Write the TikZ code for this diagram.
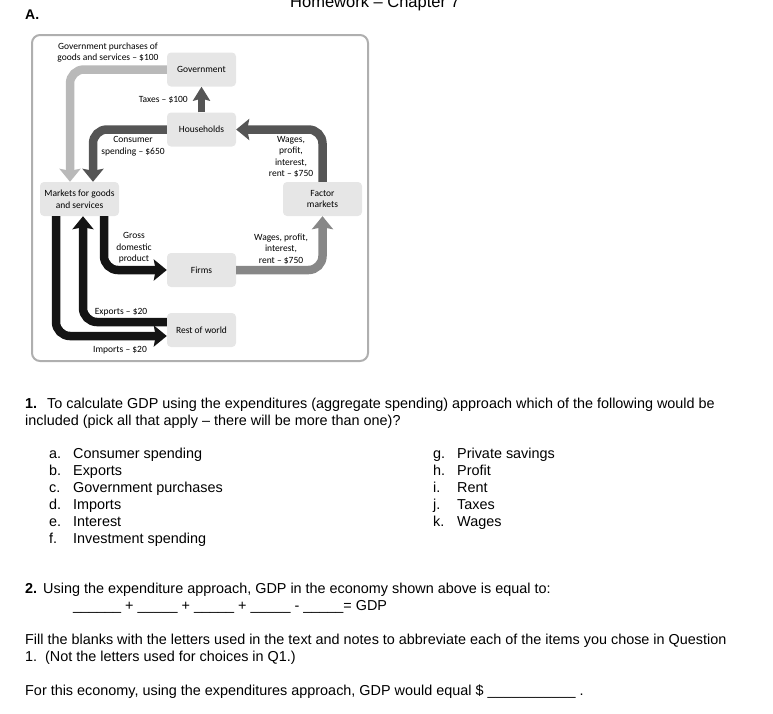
\documentclass[tikz,border=0pt]{standalone}
\usepackage{fontspec}
\setmainfont{Liberation Sans}
\newfontfamily\diagfont{Carlito}
\usetikzlibrary{positioning,arrows.meta}
\definecolor{boxgray}{RGB}{230,230,230}
\definecolor{framegray}{RGB}{175,175,175}
\definecolor{flowlight}{RGB}{185,185,185}
\definecolor{flowmid}{RGB}{135,135,135}
\definecolor{flowdark}{RGB}{85,85,85}
\definecolor{flowblack}{RGB}{20,20,20}

\begin{document}
\begin{tikzpicture}[x=1pt, y=-1pt,
  box/.style={fill=boxgray, rounded corners=4pt, minimum width=69pt, minimum height=34pt,
              align=center, inner sep=1pt, font=\diagfont\fontsize{9.5}{11.5}\selectfont},
  widebox/.style={box, minimum width=79pt},
  lbl/.style={align=center, inner sep=0pt, font=\diagfont\fontsize{9.5}{11.5}\selectfont},
  flow/.style={line width=8.5pt, rounded corners=14pt, -{Stealth[width=21pt, length=13pt, inset=2pt]}},
  txt/.style={anchor=base west, inner sep=0pt, font=\fontsize{14.4}{17}\selectfont},
]
\useasboundingbox (0,0) rectangle (773,713);

% heading
\node[txt, font=\fontsize{16.5}{19}\selectfont] (title) at (290,7) {Homework – Chapter 7};
\node[txt, font=\bfseries\fontsize{14}{17}\selectfont] (parta) at (25,19) {A.};

% circular flow
\draw[framegray, line width=2pt, rounded corners=8pt] (32,35) rectangle (368,361);

\node[box] (gov) at (201.5,69.5) {Government};
\node[box] (hh) at (201.5,129.5) {Households};
\node[widebox] (mkt) at (79.5,199) {Markets for goods\\and services};
\node[widebox] (fac) at (322.5,199) {Factor\\markets};
\node[box] (firms) at (201.5,270) {Firms};
\node[box] (rest) at (201.5,330) {Rest of world};

\draw[flow, flowlight] (gov.west) -| ([xshift=-9.5pt]mkt.north);
\draw[flow, flowdark] (hh.west) -| ([xshift=13.5pt]mkt.north);
\draw[flow, flowdark, line width=7pt, -{Stealth[width=17pt, length=14pt, inset=2pt]}] (hh.north) -- (gov.south);
\draw[flow, flowdark] (fac.north) |- (hh.east);
\draw[flow, flowmid] (firms.east) -| (fac.south);
\draw[flow, flowblack] ([xshift=24.5pt]mkt.south) |- (firms.west);
\draw[flow, flowblack] ([yshift=8pt]rest.west) -| ([xshift=3.5pt]mkt.south);
\draw[flow, flowblack] ([xshift=-23.5pt]mkt.south) |- ([yshift=-6pt]rest.west);

\node[lbl] (govlbl) at (108,52.5) {Government purchases of\\goods and services – \$100};
\node[lbl, anchor=east] (taxlbl) at (188,100) {Taxes – \$100};
\node[lbl] (conlbl) at (133,146) {Consumer\\spending – \$650};
\node[lbl] (wagetop) at (291,157) {Wages,\\profit,\\interest,\\rent – \$750};
\node[lbl] (gdplbl) at (134,248) {Gross\\domestic\\product};
\node[lbl] (wagebot) at (281,249) {Wages, profit,\\interest,\\rent – \$750};
\node[lbl] (explbl) at (121,312) {Exports – \$20};
\node[lbl] (implbl) at (120,350) {Imports – \$20};

% question 1
\node[txt] (q1a) at (25,408) {\textbf{1.}\hspace{10pt}To calculate GDP using the expenditures (aggregate spending) approach which of the following would be};
\node[txt] (q1b) at (25,425) {included (pick all that apply – there will be more than one)?};
\node[txt] (listl) at (49,458) {\begin{tabular}[t]{@{}p{24pt}@{}l@{}}
  a. & Consumer spending\\ b. & Exports\\ c. & Government purchases\\
  d. & Imports\\ e. & Interest\\ f. & Investment spending\end{tabular}};
\node[txt] (listr) at (433,458) {\begin{tabular}[t]{@{}p{24pt}@{}l@{}}
  g. & Private savings\\ h. & Profit\\ i. & Rent\\ j. & Taxes\\ k. & Wages\end{tabular}};

% question 2
\node[txt] (q2a) at (25,593) {\textbf{2.}\hspace{6pt}Using the expenditure approach, GDP in the economy shown above is equal to:};
\node[txt] (q2b) at (73,610) {\_\_\_\_\_\_ + \_\_\_\_\_ + \_\_\_\_\_ + \_\_\_\_\_ - \_\_\_\_\_= GDP};
\node[txt] (q2c) at (25,644) {Fill the blanks with the letters used in the text and notes to abbreviate each of the items you chose in Question};
\node[txt] (q2d) at (25,661) {1.\hspace{8pt}(Not the letters used for choices in Q1.)};
\node[txt] (q2e) at (25,695) {For this economy, using the expenditures approach, GDP would equal \$ \_\_\_\_\_\_\_\_\_\_\_ .};
\end{tikzpicture}
\end{document}
